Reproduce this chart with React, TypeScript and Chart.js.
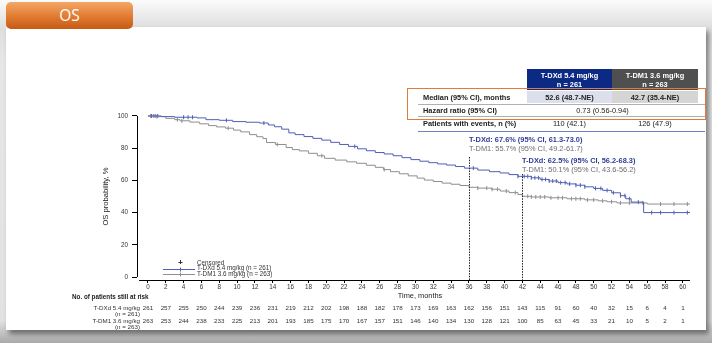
import React, { useEffect, useRef } from "react";
import { Chart, registerables } from "chart.js";
Chart.register(...registerables);

const FONT = "'Liberation Sans', Arial, Helvetica, sans-serif";

// ---- Kaplan-Meier data ----
const tdxdTimes = [0, 1.5, 3, 5.5, 6.5, 8, 9.5, 11, 12.5, 13.5, 14.2, 15, 15.8, 16.5, 17.5, 18.5, 19.5, 20.5, 21.5, 22.5, 23.5, 24.5, 25.5, 26.5, 27.5, 28.5, 29.5, 30.5, 31.5, 32.5, 33.5, 34.5, 35.5, 37, 38.3, 39.5, 40.5, 41.5, 43, 44, 45, 46, 47, 48, 49, 50, 51, 52, 53, 53.6, 54.2, 55.6, 60.8];
const tdxdSurv = [100, 99.6, 99.2, 98.8, 97.7, 97.3, 96.5, 96.1, 95.6, 94.4, 93.3, 91.8, 89.5, 88.4, 87.2, 86.1, 85.0, 83.6, 82.3, 81.1, 79.6, 78.4, 77.3, 76.4, 75.3, 74.1, 72.9, 71.9, 71.0, 70.2, 69.5, 68.6, 67.6, 66.4, 65.4, 64.6, 63.6, 62.5, 61.6, 60.6, 59.6, 58.6, 57.8, 57.0, 56.0, 55.0, 53.8, 52.3, 50.5, 48.6, 46.5, 40.0, 40.0];
const tdm1Times = [0, 1, 2, 3, 3.6, 4.7, 5.8, 6.8, 7.7, 8.7, 9.6, 10.4, 11.4, 12.2, 12.9, 13.3, 14.3, 15.5, 16.2, 17, 18, 19, 19.8, 21, 22.3, 23.4, 24.5, 25.5, 26.4, 27.2, 28.2, 29.2, 30.2, 31, 32, 33, 34, 35, 36, 37, 38.5, 39.5, 40.5, 41.5, 42, 43, 45, 47, 49, 50.5, 51.5, 52.6, 56, 60.8];
const tdm1Surv = [100, 99.6, 98.5, 97.7, 97.0, 96.2, 95.1, 94.0, 93.2, 92.4, 91.2, 90.1, 88.4, 87.1, 86.0, 83.5, 82.3, 80.4, 79.1, 78.3, 76.8, 75.3, 73.7, 72.6, 71.5, 70.6, 69.4, 68.1, 66.7, 65.4, 64.1, 62.8, 61.4, 60.2, 59.3, 58.3, 57.6, 56.8, 55.7, 55.2, 54.5, 53.4, 52.4, 51.2, 50.1, 49.7, 49.2, 48.6, 47.9, 47.3, 46.7, 46.0, 45.3, 45.3];
const tdxdCensor = [0.4, 0.8, 1.1, 4.0, 4.5, 5.0, 8.8, 13.0, 23.2, 36.5, 41.5, 42.2, 42.6, 43.0, 43.4, 43.8, 44.2, 44.6, 45.0, 45.4, 45.8, 46.3, 46.8, 47.3, 48.0, 48.5, 49.0, 50.2, 50.8, 51.5, 52.2, 53.0, 53.5, 54.0, 55.0, 56.5, 57.5, 59.0, 60.5];
const tdm1Censor = [0.3, 0.6, 1.0, 3.3, 3.8, 9.0, 14.5, 19.5, 26.5, 37.0, 38.0, 38.6, 39.2, 40.2, 41.2, 42.6, 43.0, 43.5, 44.0, 44.5, 45.2, 46.0, 46.5, 47.5, 48.0, 48.5, 49.3, 50.0, 51.0, 52.0, 53.0, 54.0, 55.5, 57.5, 59.0, 60.5];

// ---- axes ----
const xTicks = [0, 2, 4, 6, 8, 10, 12, 14, 16, 18, 20, 22, 24, 26, 28, 30, 32, 34, 36, 38, 40, 42, 44, 46, 48, 50, 52, 54, 56, 58, 60];
const yTicks = [0, 20, 40, 60, 80, 100];
const xTitle = "Time, months";
const yTitle = "OS probability, %";

// ---- number at risk ----
const riskTitle = "No. of patients still at risk";
const riskLabels = [["T-DXd 5.4 mg/kg", "(n = 261)"], ["T-DM1 3.6 mg/kg", "(n = 263)"]];
const tdxdRisk = [261, 257, 255, 250, 244, 239, 236, 231, 219, 212, 202, 198, 188, 182, 178, 173, 169, 163, 162, 156, 151, 143, 115, 91, 60, 40, 32, 15, 6, 4, 1];
const tdm1Risk = [263, 253, 244, 238, 233, 225, 213, 201, 193, 185, 175, 170, 167, 157, 151, 146, 140, 134, 130, 128, 121, 100, 85, 63, 45, 33, 21, 10, 5, 2, 1];

// ---- landmarks ----
const landmarkMonths = [36, 42];
const landmarkTdxd = ["T-DXd: 67.6% (95% CI, 61.3-73.0)", "T-DXd: 62.5% (95% CI, 56.2-68.3)"];
const landmarkTdm1 = ["T-DM1: 55.7% (95% CI, 49.2-61.7)", "T-DM1: 50.1% (95% CI, 43.6-56.2)"];

// ---- legend ----
const legendLabels = ["Censored", "T-DXd 5.4 mg/kg (n = 261)", "T-DM1 3.6 mg/kg (n = 263)"];

// ---- summary table ----
const armHeaders = [["T-DXd 5.4 mg/kg", "n = 261"], ["T-DM1 3.6 mg/kg", "n = 263"]];
const rowLabels = ["Median (95% CI), months", "Hazard ratio (95% CI)", "Patients with events, n (%)"];
const medianValues = ["52.6 (48.7-NE)", "42.7 (35.4-NE)"];
const hazardValue = "0.73 (0.56-0.94)";
const eventValues = ["110 (42.1)", "126 (47.9)"];

const BLUE = "#4f5fb4";
const GRAY = "#8e8e8e";
const TXT = "#333";

function survAt(times: number[], surv: number[], t: number) {
  let v = surv[0];
  for (let i = 0; i < times.length; i++) if (times[i] <= t) v = surv[i];
  return v;
}

const overlay = {
  id: "overlay",
  afterDraw(chart: any) {
    const { ctx } = chart;
    const xs = chart.scales.x;
    const ys = chart.scales.y;
    ctx.save();
    // axis lines
    ctx.strokeStyle = "#000";
    ctx.lineWidth = 1;
    ctx.beginPath();
    const ax = Math.round(chart.chartArea.left) + 0.5;
    ctx.moveTo(ax, ys.getPixelForValue(100));
    ctx.lineTo(ax, ys.getPixelForValue(0));
    const by = Math.round(chart.chartArea.bottom) + 0.5;
    ctx.moveTo(xs.getPixelForValue(-1), by);
    ctx.lineTo(chart.chartArea.right, by);
    ctx.stroke();

    // titles
    ctx.fillStyle = "#222";
    ctx.font = `7.4px ${FONT}`;
    ctx.textAlign = "center";
    ctx.textBaseline = "middle";
    ctx.fillText(xTitle, 420, 296);
    ctx.save();
    ctx.translate(106, (ys.getPixelForValue(0) + ys.getPixelForValue(100)) / 2);
    ctx.rotate(-Math.PI / 2);
    ctx.font = `7.6px ${FONT}`;
    ctx.fillText(yTitle, 0, 0);
    ctx.restore();

    // landmark lines + text
    const textTops = [140, 161];
    const lineTops = [157, 174];
    landmarkMonths.forEach((m, i) => {
      const px = Math.round(xs.getPixelForValue(m)) + 0.5;
      ctx.strokeStyle = "#222";
      ctx.setLineDash([1.5, 1.2]);
      ctx.beginPath();
      ctx.moveTo(px, lineTops[i]);
      ctx.lineTo(px, chart.chartArea.bottom);
      ctx.stroke();
      ctx.setLineDash([]);
      ctx.textAlign = "left";
      ctx.font = `bold 7.4px ${FONT}`;
      ctx.fillStyle = "#2f3d98";
      ctx.fillText(landmarkTdxd[i], px - 0.5, textTops[i]);
      ctx.font = `7.4px ${FONT}`;
      ctx.fillStyle = "#6d6d6d";
      ctx.fillText(landmarkTdm1[i], px - 0.5, textTops[i] + 9);
    });

    // legend
    ctx.lineWidth = 1;
    ctx.strokeStyle = "#333";
    ctx.beginPath();
    ctx.moveTo(180.5, 260);
    ctx.lineTo(180.5, 264);
    ctx.moveTo(178.5, 262.5);
    ctx.lineTo(182.5, 262.5);
    ctx.stroke();
    const legY = [263, 268.5, 274];
    const legCol = [null, BLUE, GRAY];
    ctx.font = `6.3px ${FONT}`;
    ctx.textAlign = "left";
    legendLabels.forEach((lab, i) => {
      const c = legCol[i];
      if (c) {
        ctx.strokeStyle = c;
        ctx.beginPath();
        ctx.moveTo(163, Math.round(legY[i]) + 0.5);
        ctx.lineTo(195, Math.round(legY[i]) + 0.5);
        ctx.moveTo(180.5, Math.round(legY[i]) - 1.5);
        ctx.lineTo(180.5, Math.round(legY[i]) + 2.5);
        ctx.stroke();
      }
      ctx.fillStyle = TXT;
      ctx.fillText(lab, 197, legY[i]);
    });

    // number at risk
    ctx.fillStyle = "#222";
    ctx.font = `bold 6.3px ${FONT}`;
    ctx.textAlign = "left";
    ctx.fillText(riskTitle, 72, 297.5);
    const rowY = [308.5, 321.5];
    const rows = [tdxdRisk, tdm1Risk];
    ctx.font = `6.2px ${FONT}`;
    riskLabels.forEach((lab, r) => {
      ctx.textAlign = "right";
      ctx.fillStyle = TXT;
      ctx.fillText(lab[0], 140, rowY[r]);
      ctx.fillText(lab[1], 140, rowY[r] + 6);
      ctx.textAlign = "center";
      rows[r].forEach((n, i) => {
        ctx.fillText(String(n), xs.getPixelForValue(xTicks[i]), rowY[r]);
      });
    });
    ctx.restore();
  },
};

export default function App() {
  const ref = useRef<HTMLCanvasElement>(null);
  useEffect(() => {
    const canvas = ref.current!;
    const chart = new Chart(canvas, {
      type: "line",
      data: {
        datasets: [
          {
            label: "T-DXd",
            data: tdxdTimes.map((t, i) => ({ x: t, y: tdxdSurv[i] })),
            borderColor: BLUE,
            borderWidth: 1,
            pointRadius: 0,
            stepped: true,
            fill: false,
          },
          {
            label: "T-DM1",
            data: tdm1Times.map((t, i) => ({ x: t, y: tdm1Surv[i] })),
            borderColor: GRAY,
            borderWidth: 1,
            pointRadius: 0,
            stepped: true,
            fill: false,
          },
          {
            label: "T-DXd censored",
            data: tdxdCensor.map((t) => ({ x: t, y: survAt(tdxdTimes, tdxdSurv, t) })),
            showLine: false,
            pointStyle: "line",
            rotation: 90,
            pointRadius: 2,
            borderColor: BLUE,
            pointBorderWidth: 1,
          },
          {
            label: "T-DM1 censored",
            data: tdm1Censor.map((t) => ({ x: t, y: survAt(tdm1Times, tdm1Surv, t) })),
            showLine: false,
            pointStyle: "line",
            rotation: 90,
            pointRadius: 2,
            borderColor: GRAY,
            pointBorderWidth: 1,
          },
        ] as any,
      },
      options: {
        animation: false,
        responsive: false,
        events: [],
        layout: { padding: { left: 100, right: 22, top: 110, bottom: 51 } },
        plugins: { legend: { display: false }, tooltip: { enabled: false } },
        scales: {
          x: {
            type: "linear",
            min: -1.23,
            max: 60.8,
            afterBuildTicks: (s: any) => {
              s.ticks = xTicks.map((v) => ({ value: v }));
            },
            afterFit: (s: any) => {
              s.height = 12;
            },
            grid: { display: true, drawOnChartArea: false, drawTicks: true, tickLength: 3, color: "#000", tickColor: "#000" },
            border: { display: false },
            ticks: { font: { family: FONT, size: 6.3 }, color: TXT, padding: 0, maxRotation: 0, autoSkip: false },
          },
          y: {
            type: "linear",
            min: -1.86,
            max: 103.7,
            afterBuildTicks: (s: any) => {
              s.ticks = yTicks.map((v) => ({ value: v }));
            },
            afterFit: (s: any) => {
              s.width = 37;
            },
            grid: { display: true, drawOnChartArea: false, drawTicks: true, tickLength: 5, color: "#000", tickColor: "#000" },
            border: { display: false },
            ticks: { font: { family: FONT, size: 6.3 }, color: TXT, padding: 4, autoSkip: false },
          },
        },
      },
      plugins: [overlay],
    } as any);
    return () => chart.destroy();
  }, []);

  const cellText: React.CSSProperties = {
    position: "absolute",
    fontFamily: FONT,
    fontSize: 7.4,
    color: "#222",
    whiteSpace: "nowrap",
    lineHeight: "9px",
  };
  const rowCenters = [97, 110.5, 123.5];

  return (
    <div
      style={{
        position: "fixed",
        left: 0,
        top: 0,
        width: 712,
        height: 343,
        overflow: "hidden",
        background: "linear-gradient(#fbfbfb 0px, #dedede 28px, #e6e6e6 60px, #e2e2e2 320px, #a9a9a9 343px)",
      }}
    >
      <div
        style={{
          position: "absolute",
          left: 6,
          top: 27,
          width: 700,
          height: 303,
          background: "#fff",
          boxShadow: "3px 4px 5px rgba(0,0,0,0.45)",
        }}
      />
      <div
        style={{
          position: "absolute",
          left: 6,
          top: 2,
          width: 127,
          height: 27,
          borderRadius: 5,
          background: "linear-gradient(#f4a866, #e07a30 55%, #c65a14)",
          color: "#fff",
          fontFamily: "'Open Sans', " + FONT,
          fontSize: 15.5,
          lineHeight: "27px",
          textAlign: "center",
        }}
      >
        OS
      </div>
      <canvas ref={ref} width={712} height={343} style={{ position: "absolute", left: 0, top: 0, width: 712, height: 343 }} />

      {/* summary table */}
      <div style={{ position: "absolute", left: 527, top: 69, width: 85, height: 21, background: "#0c2a84" }} />
      <div style={{ position: "absolute", left: 612, top: 69, width: 86, height: 21, background: "#4f4f4f" }} />
      {armHeaders.map((h, i) => (
        <div
          key={i}
          style={{ ...cellText, left: i === 0 ? 527 : 612, top: 71, width: i === 0 ? 85 : 86, textAlign: "center", color: "#fff", fontWeight: "bold" }}
        >
          {h[0]}
          <br />
          {h[1]}
        </div>
      ))}
      <div style={{ position: "absolute", left: 527, top: 91, width: 85, height: 12, background: "#dbe0ec" }} />
      <div style={{ position: "absolute", left: 612, top: 91, width: 86, height: 12, background: "#d5d5d5" }} />
      <div style={{ position: "absolute", left: 418, top: 103.5, width: 287, height: 0, borderTop: "1px solid #b0b0b0" }} />
      <div style={{ position: "absolute", left: 418, top: 116, width: 287, height: 0, borderTop: "1px solid #b0b0b0" }} />
      <div style={{ position: "absolute", left: 418, top: 131, width: 287, height: 0, borderTop: "1px solid #6f80c4" }} />
      <div style={{ position: "absolute", left: 407, top: 88, width: 297, height: 30, border: "1px solid #e07b39" }} />
      {rowLabels.map((l, i) => (
        <div key={l} style={{ ...cellText, left: 423, top: rowCenters[i] - 4.5, fontWeight: "bold" }}>
          {l}
        </div>
      ))}
      {medianValues.map((v, i) => (
        <div key={v} style={{ ...cellText, left: i === 0 ? 527 : 612, width: i === 0 ? 85 : 86, top: rowCenters[0] - 4.5, textAlign: "center", fontWeight: "bold" }}>
          {v}
        </div>
      ))}
      <div style={{ ...cellText, left: 560, width: 85, top: rowCenters[1] - 4.5, textAlign: "center" }}>{hazardValue}</div>
      {eventValues.map((v, i) => (
        <div key={v} style={{ ...cellText, left: i === 0 ? 527 : 612, width: i === 0 ? 85 : 86, top: rowCenters[2] - 4.5, textAlign: "center" }}>
          {v}
        </div>
      ))}
    </div>
  );
}
